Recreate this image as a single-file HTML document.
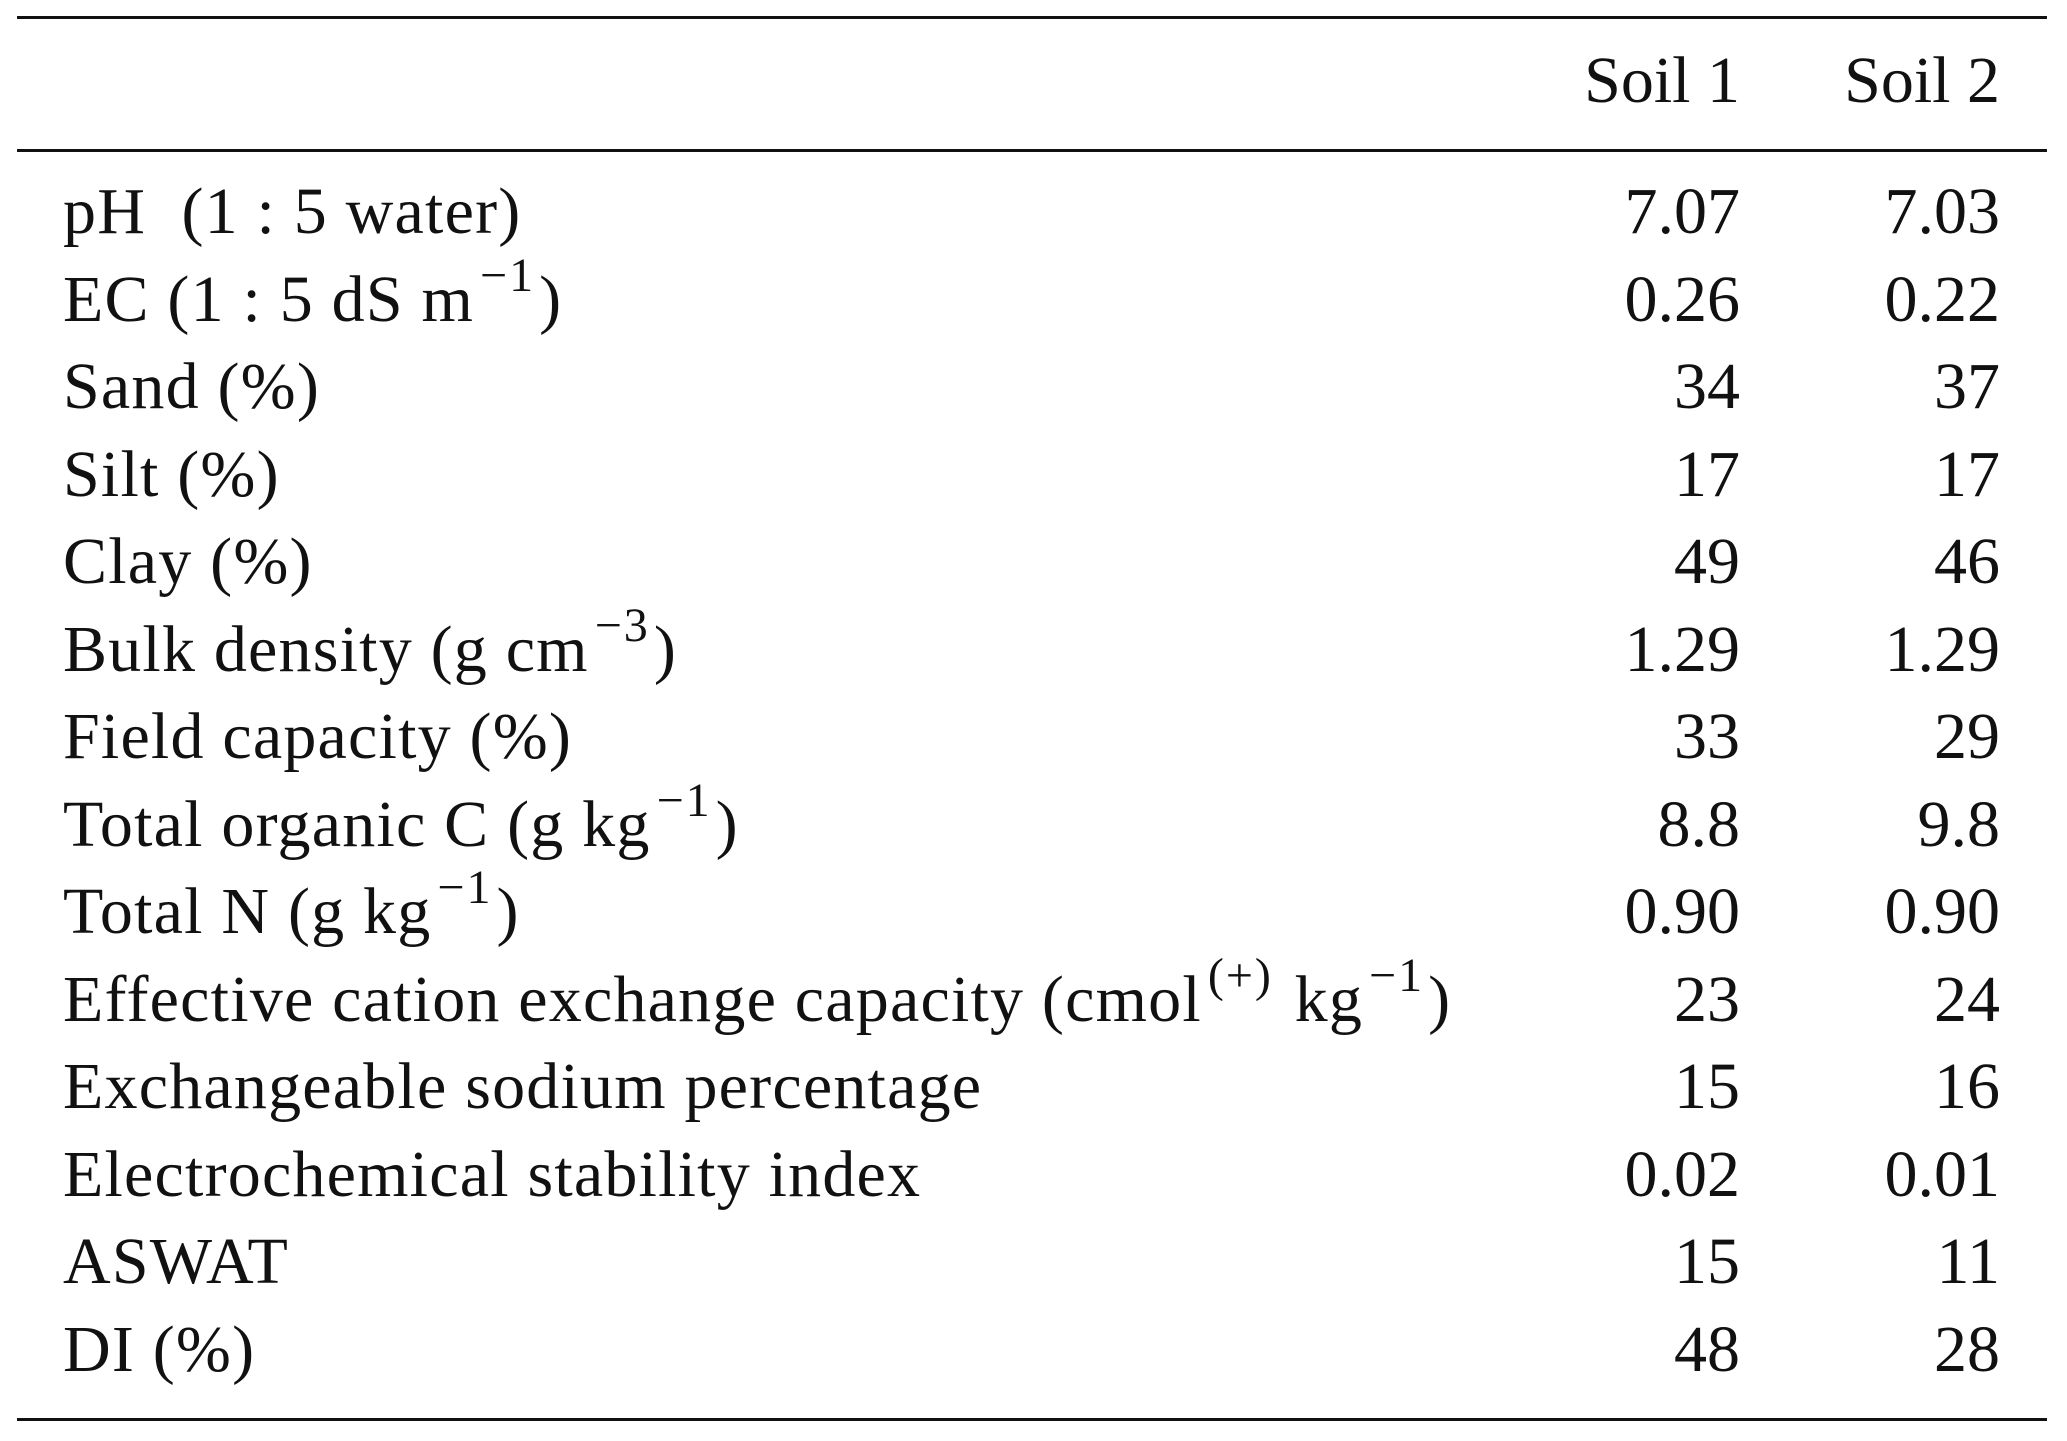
<!DOCTYPE html>
<html><head><meta charset="utf-8"><style>
body{margin:0;background:#fff;}
#c{position:relative;width:2067px;height:1441px;overflow:hidden;font-family:"Liberation Serif",serif;font-size:66px;color:#111;}
.r{position:absolute;line-height:normal;white-space:nowrap;}
.l{left:63px;letter-spacing:1.2px;}
.a{right:327px;text-align:right;}
.b{right:67px;text-align:right;}
.h{position:absolute;left:17px;width:2030px;height:3px;background:#111;}
sup{font-size:48px;vertical-align:0;position:relative;top:-30px;margin:0 4px 0 6px;letter-spacing:2px;}
</style></head><body><div id="c">
<div class="h" style="top:16px"></div>
<div class="h" style="top:149px"></div>
<div class="h" style="top:1418px"></div>
<div class="r a" style="top:43px">Soil 1</div>
<div class="r b" style="top:43px">Soil 2</div>
<div id="rows"></div>
</div>
<script>
var d=[["pH&nbsp; (1 : 5 water)","7.07","7.03"],
["EC (1 : 5 dS m<sup>&minus;1</sup>)","0.26","0.22"],
["Sand (%)","34","37"],["Silt (%)","17","17"],["Clay (%)","49","46"],
["Bulk density (g cm<sup>&minus;3</sup>)","1.29","1.29"],
["Field capacity (%)","33","29"],
["Total organic C (g kg<sup>&minus;1</sup>)","8.8","9.8"],
["Total N (g kg<sup>&minus;1</sup>)","0.90","0.90"],
["Effective cation exchange capacity (cmol<sup>(+)</sup> kg<sup>&minus;1</sup>)","23","24"],
["Exchangeable sodium percentage","15","16"],
["Electrochemical stability index","0.02","0.01"],
["ASWAT","15","11"],["DI (%)","48","28"]];
var h="";d.forEach(function(r,i){var t=233+i*87.5-59;
h+='<div class="r l" style="top:'+t+'px">'+r[0]+'</div><div class="r a" style="top:'+t+'px">'+r[1]+'</div><div class="r b" style="top:'+t+'px">'+r[2]+'</div>';});
document.getElementById("rows").outerHTML=h;
</script></body></html>
